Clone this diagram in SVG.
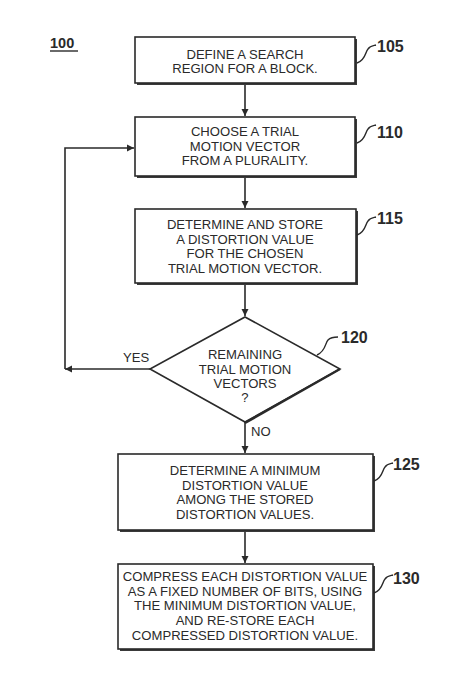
<svg xmlns="http://www.w3.org/2000/svg" width="474" height="690" viewBox="0 0 474 690">
<style>
.box{fill:#fff;stroke:#2a2a2a;stroke-width:1.6}
.sh{fill:none;stroke:#3a3a3a;stroke-width:2}
.t{font-family:"Liberation Sans",Arial,sans-serif;font-size:13.1px;fill:#2a2a2a;text-anchor:middle}
.lbl{font-family:"Liberation Sans",Arial,sans-serif;font-size:16px;font-weight:bold;fill:#2a2a2a}
.ld{fill:none;stroke:#2a2a2a;stroke-width:1.4}
.c{fill:none;stroke:#2a2a2a;stroke-width:1.6}
</style>
<defs>
<marker id="ah" viewBox="0 0 10 10" refX="10" refY="5" markerWidth="7" markerHeight="8" orient="auto" markerUnits="userSpaceOnUse">
<path d="M0,0 L10,5 L0,10 z" fill="#2a2a2a"/>
</marker>
</defs>
<rect width="474" height="690" fill="#fff"/>
<g id="title">
<text x="50" y="48" class="lbl" style="font-size:14.5px">100</text>
<line x1="50" y1="51" x2="78" y2="51" stroke="#2a2a2a" stroke-width="1.4"/>
</g>
<g id="connectors">
<line class="c" x1="245" y1="84" x2="245" y2="116" marker-end="url(#ah)"/>
<line class="c" x1="245" y1="177" x2="245" y2="208" marker-end="url(#ah)"/>
<line class="c" x1="245" y1="284" x2="245" y2="316" marker-end="url(#ah)"/>
<line class="c" x1="245" y1="422" x2="245" y2="453" marker-end="url(#ah)"/>
<line class="c" x1="245" y1="531" x2="245" y2="563" marker-end="url(#ah)"/>
<line class="c" x1="150" y1="369" x2="65" y2="369" marker-end="url(#ah)"/>
<polyline class="c" points="65,369 65,148 134,148" marker-end="url(#ah)"/>
<text x="123" y="362" class="t" style="text-anchor:start">YES</text>
<text x="251" y="436" class="t" style="text-anchor:start">NO</text>
</g>
<g id="n105">
<polyline class="sh" points="137,84 356,84 356,39"/>
<rect class="box" x="135" y="37" width="220" height="46"/>
<text class="t" x="245" y="58.5">DEFINE A SEARCH</text>
<text class="t" x="245" y="73">REGION FOR A BLOCK.</text>
<path class="ld" d="M357,63 C366,60 365,52 368,49 C370,46 372,46 376,45"/>
<text class="lbl" x="377" y="52">105</text>
</g>
<g id="n110">
<polyline class="sh" points="137,177 356,177 356,119"/>
<rect class="box" x="135" y="117" width="220" height="59"/>
<text class="t" x="245" y="136">CHOOSE A TRIAL</text>
<text class="t" x="245" y="150.5">MOTION VECTOR</text>
<text class="t" x="245" y="165">FROM A PLURALITY.</text>
<path class="ld" d="M357,143 C366,140 365,132 368,129 C370,126 372,126 376,125"/>
<text class="lbl" x="377" y="138">110</text>
</g>
<g id="n115">
<polyline class="sh" points="137,284 357,284 357,211"/>
<rect class="box" x="135" y="209" width="221" height="74"/>
<text class="t" x="245" y="229">DETERMINE AND STORE</text>
<text class="t" x="245" y="243.5">A DISTORTION VALUE</text>
<text class="t" x="245" y="258">FOR THE CHOSEN</text>
<text class="t" x="245" y="272.5">TRIAL MOTION VECTOR.</text>
<path class="ld" d="M357,235 C366,232 365,224 368,221 C370,218 372,218 376,217"/>
<text class="lbl" x="377" y="224">115</text>
</g>
<g id="n120">
<polygon points="245,317 340,369 245,422 150,369" fill="#fff" stroke="#2a2a2a" stroke-width="1.6"/>
<polyline points="340,369 245,423" fill="none" stroke="#2a2a2a" stroke-width="2.4"/>
<text class="t" x="245" y="358.5">REMAINING</text>
<text class="t" x="245" y="373.5">TRIAL MOTION</text>
<text class="t" x="245" y="388">VECTORS</text>
<text class="t" x="245" y="402">?</text>
<path class="ld" d="M317,355 C326,351 325,343 328,340 C330,338 333,337 338,337"/>
<text class="lbl" x="341" y="343">120</text>
</g>
<g id="n125">
<polyline class="sh" points="120,531 374,531 374,456"/>
<rect class="box" x="118" y="454" width="255" height="76"/>
<text class="t" x="245" y="475">DETERMINE A MINIMUM</text>
<text class="t" x="245" y="489.5">DISTORTION VALUE</text>
<text class="t" x="245" y="504">AMONG THE STORED</text>
<text class="t" x="245" y="518.5">DISTORTION VALUES.</text>
<path class="ld" d="M374,481 C383,478 382,470 385,467 C387,464 389,464 393,463"/>
<text class="lbl" x="393" y="470">125</text>
</g>
<g id="n130">
<polyline class="sh" points="120,650 374,650 374,566"/>
<rect class="box" x="118" y="564" width="255" height="85"/>
<text class="t" x="245" y="581">COMPRESS EACH DISTORTION VALUE</text>
<text class="t" x="245" y="595.5">AS A FIXED NUMBER OF BITS, USING</text>
<text class="t" x="245" y="610">THE MINIMUM DISTORTION VALUE,</text>
<text class="t" x="245" y="625">AND RE-STORE EACH</text>
<text class="t" x="245" y="639.5">COMPRESSED DISTORTION VALUE.</text>
<path class="ld" d="M374,593 C383,590 382,582 385,579 C387,576 389,576 393,575"/>
<text class="lbl" x="393" y="584">130</text>
</g>
</svg>
